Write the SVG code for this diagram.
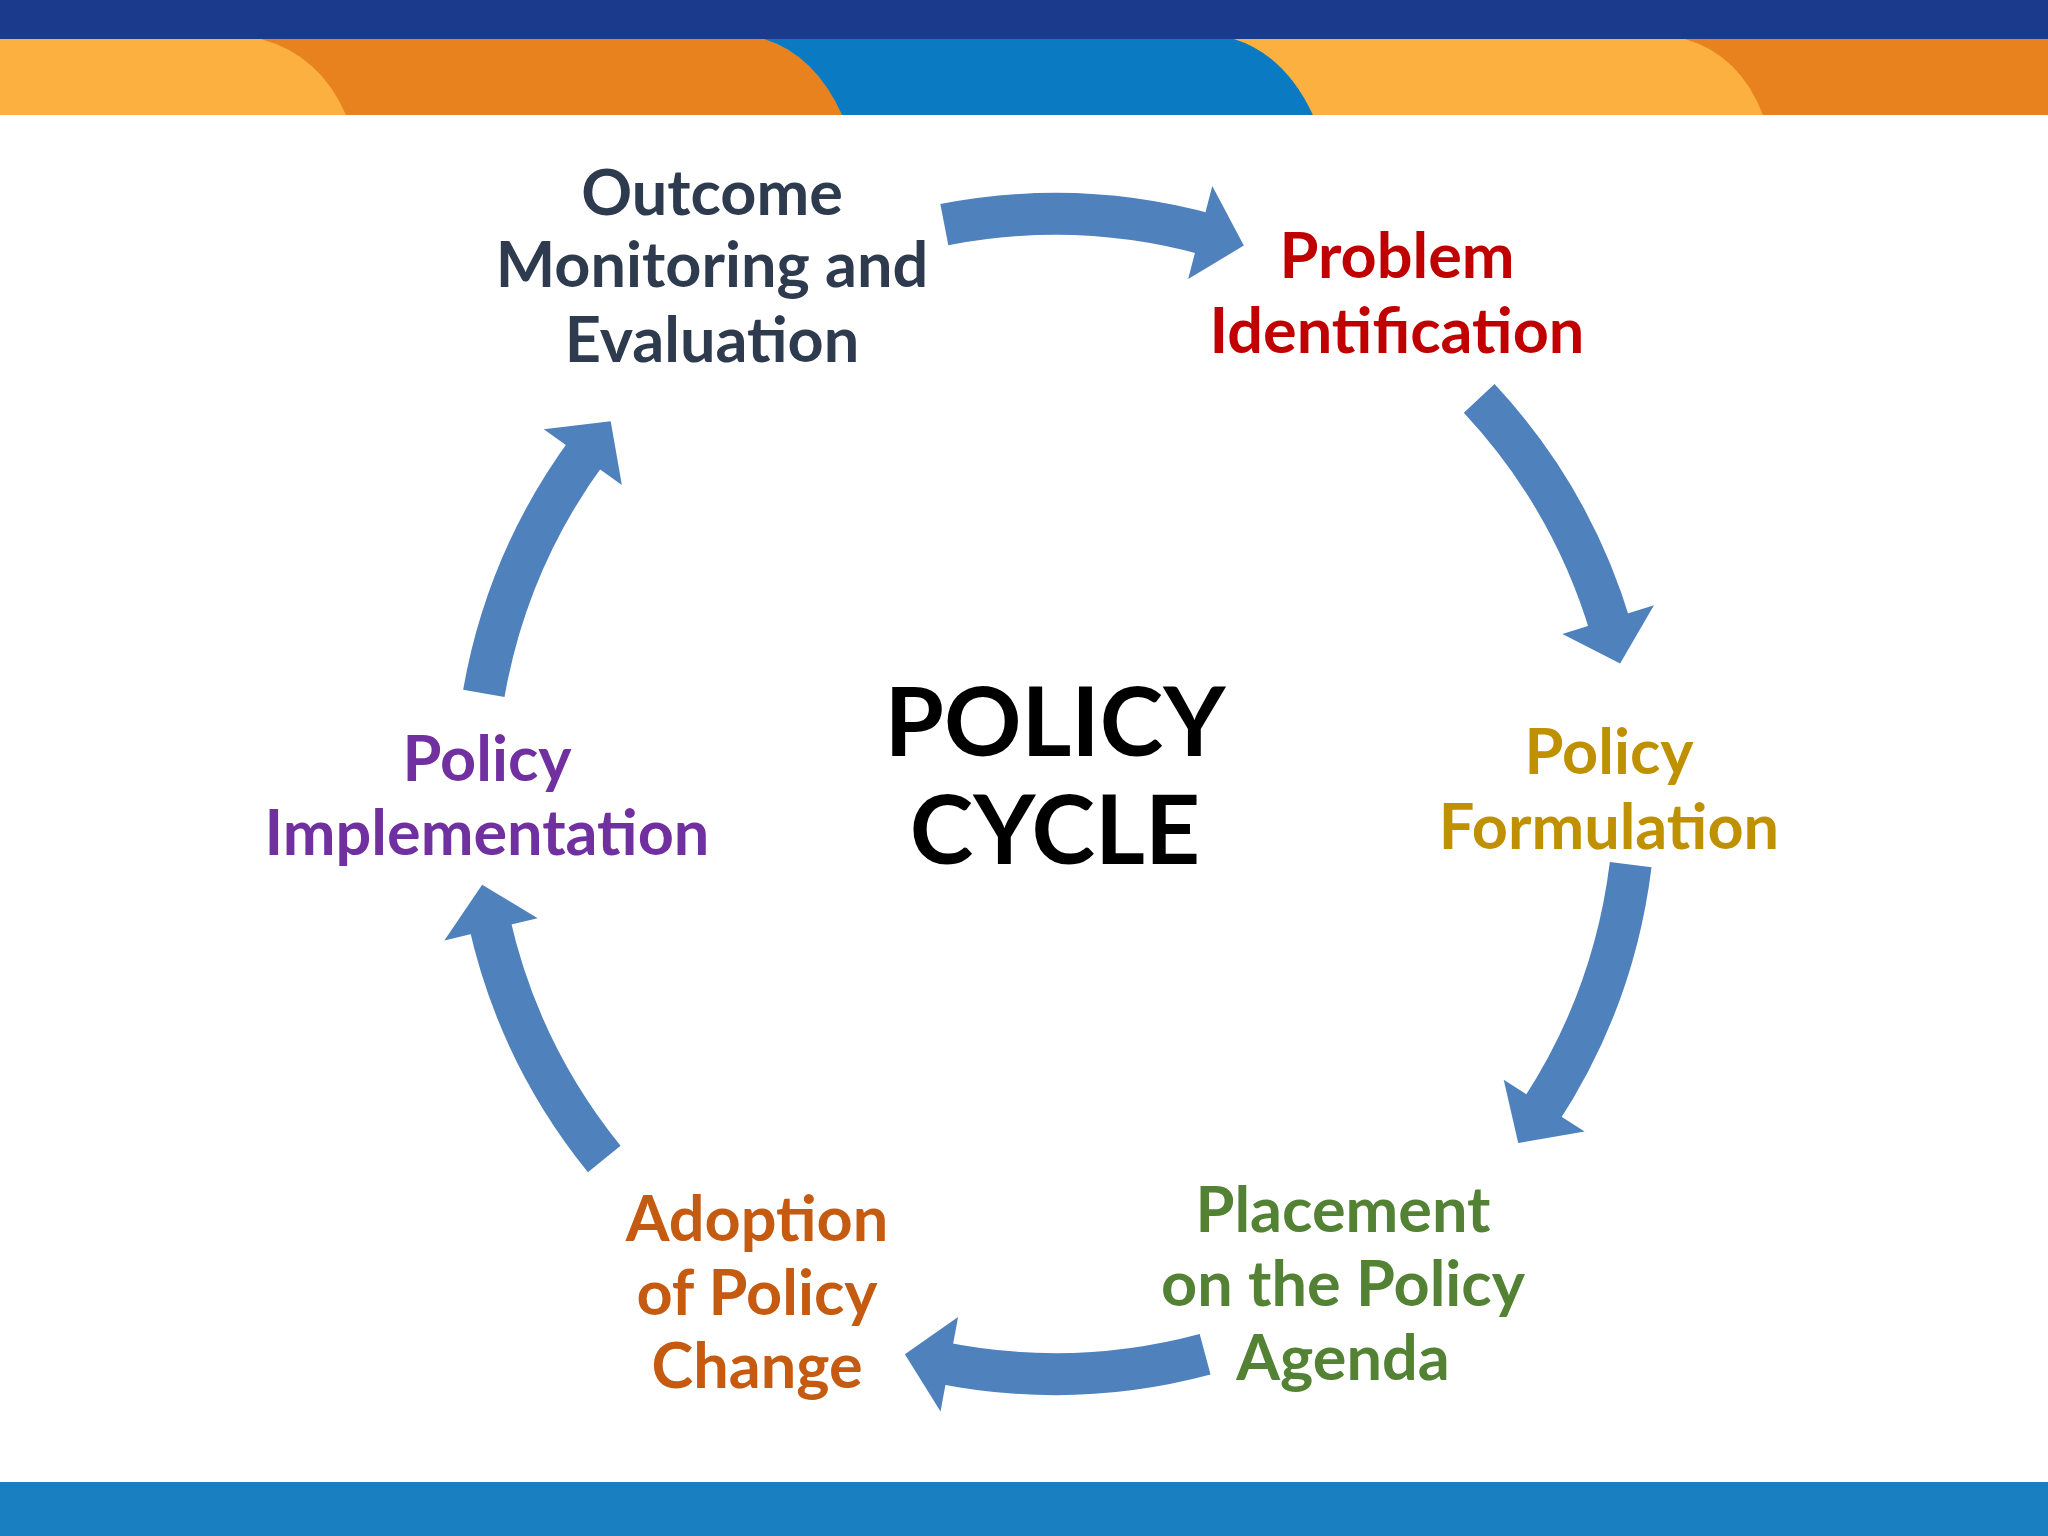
<svg xmlns="http://www.w3.org/2000/svg" xmlns:xlink="http://www.w3.org/1999/xlink" width="2048" height="1536" viewBox="0 0 2048 1536">
<style>
text{font-family:Lato,"Open Sans","Liberation Sans",sans-serif;font-weight:bold;text-anchor:middle}
.lbl{font-size:63px}
.body{fill:none;stroke:#4F81BD;stroke-width:42}
.head{fill:#4F81BD}
</style>
<defs>
<g id="arrow">
<path class="body" d="M1635,794 A580,580 0 0 1 1574,1052.8"/>
<polygon class="head" points="1535.2,1023 1621.8,1064.4 1557.3,1084"/>
</g>
</defs>
<rect width="2048" height="1536" fill="#FFFFFF"/>
<g id="header">
<rect x="0" y="0" width="2048" height="39" fill="#1B3A8C"/>
<rect x="0" y="39" width="2048" height="76" fill="#FBB040"/>
<path d="M261,39 Q320,55 346,115 L842,115 Q815,55 764,39 Z" fill="#E8821E"/>
<path d="M764,39 Q815,55 842,115 L1313,115 Q1285,55 1234,39 Z" fill="#0A7BC2"/>
<path d="M1685,39 Q1740,55 1763,115 L2048,115 L2048,39 Z" fill="#E8821E"/>
<rect x="0" y="1482" width="2048" height="54" fill="#1A7FC1"/>
</g>
<g id="connectors">
<use xlink:href="#arrow" transform="rotate(-101 1055 794)"/>
<use xlink:href="#arrow" transform="rotate(-43 1055 794)"/>
<use xlink:href="#arrow" transform="rotate(7 1055 794)"/>
<use xlink:href="#arrow" transform="rotate(75 1055 794)"/>
<use xlink:href="#arrow" transform="rotate(141 1055 794)"/>
<use xlink:href="#arrow" transform="rotate(190 1055 794)"/>
</g>
<g id="center"><text x="1055" y="756" font-size="96">POLICY</text><text x="1055" y="864" font-size="96">CYCLE</text></g>
<g id="outcome" fill="#2E3B4E"><text class="lbl" x="712" y="215">Outcome</text><text class="lbl" x="712" y="287">Monitoring and</text><text class="lbl" x="712" y="362">Evaluation</text></g>
<g id="problem" fill="#C00000"><text class="lbl" x="1397" y="278">Problem</text><text class="lbl" x="1397" y="353">Identification</text></g>
<g id="formulation" fill="#BF9000"><text class="lbl" x="1609" y="774">Policy</text><text class="lbl" x="1609" y="849">Formulation</text></g>
<g id="placement" fill="#548235"><text class="lbl" x="1343" y="1232">Placement</text><text class="lbl" x="1343" y="1306">on the Policy</text><text class="lbl" x="1343" y="1380">Agenda</text></g>
<g id="adoption" fill="#C55A11"><text class="lbl" x="757" y="1241">Adoption</text><text class="lbl" x="757" y="1315">of Policy</text><text class="lbl" x="757" y="1388">Change</text></g>
<g id="implementation" fill="#7030A0"><text class="lbl" x="487" y="781">Policy</text><text class="lbl" x="487" y="855">Implementation</text></g>
</svg>
